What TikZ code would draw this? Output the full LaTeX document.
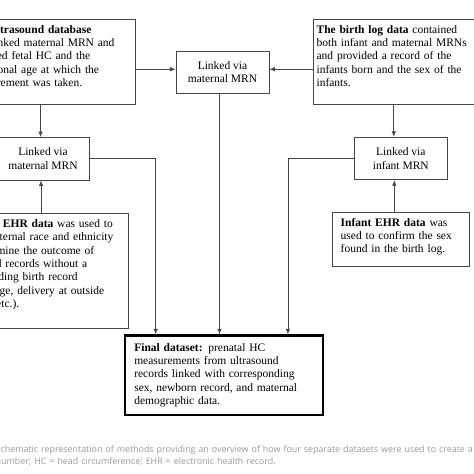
\documentclass[tikz,border=0pt]{standalone}
\usepackage{fontspec}
\setmainfont{Liberation Serif}
\newfontfamily\capfont{Open Sans}
\usetikzlibrary{positioning, arrows.meta}
\definecolor{boxgray}{RGB}{70,70,70}
\definecolor{capgray}{RGB}{155,155,155}

\begin{document}
\begin{tikzpicture}[x=1pt, y=-1pt,
        dbox/.style={draw=boxgray, line width=0.8pt, align=left, anchor=north west,
            inner xsep=7pt, inner ysep=6pt, font=\fontsize{11.5}{13.3}\selectfont},
        linkbox/.style={draw=boxgray, line width=0.8pt, align=center,
            minimum width=93pt, minimum height=42.5pt, inner sep=2pt,
            font=\fontsize{11.5}{13.3}\selectfont},
        finalbox/.style={draw=black, line width=2.2pt, align=left, anchor=north west,
            inner xsep=9.5pt, inner ysep=8pt, font=\fontsize{11.5}{13.3}\selectfont},
        arr/.style={draw=boxgray, line width=0.8pt, -{Latex[length=5.5pt, width=4.5pt]}}
    ]
    \useasboundingbox (0,0) rectangle (474,474);
    \clip (0,0) rectangle (474,474);
    \fill[white] (0,0) rectangle (474,474);

    \node[dbox, text width=160.9pt, text depth=65pt] (us) at (-39.9,19)
        {\textbf{The ultrasound database}\\
         held linked maternal MRN and\\
         recorded fetal HC and the\\
         gestational age at which the\\
         measurement was taken.};
    \node[dbox, text width=154pt, text depth=65pt, inner xsep=3.5pt] (birth) at (312.7,19)
        {\textbf{The birth log data} contained\\
         both infant and maternal MRNs\\
         and provided a record of the\\
         infants born and the sex of the\\
         infants.};
    \node[linkbox] (lmat) at (222.5,72.2) {Linked via\\maternal MRN};
    \node[linkbox] (lmat2) at (43,158.7) {Linked via\\maternal MRN};
    \node[linkbox] (linf) at (400.8,158.5) {Linked via\\infant MRN};
    \node[dbox, text width=168.6pt, text depth=95pt] (mehr) at (-54.3,213.3)
        {\textbf{Maternal EHR data} was used to\\
         obtain maternal race and ethnicity\\
         and determine the outcome of\\
         ultrasound records without a\\
         corresponding birth record\\
         (miscarriage, delivery at outside\\
         hospital, etc.).};
    \node[dbox, text width=120.4pt, text depth=34pt, inner xsep=8pt] (iehr) at (332.3,211.7)
        {\textbf{Infant EHR data} was\\
         used to confirm the sex\\
         found in the birth log.};
    \node[finalbox, text width=179pt] (final) at (123.7,334.3)
        {\textbf{Final dataset:} prenatal HC\\
         measurements from ultrasound\\
         records linked with corresponding\\
         sex, newborn record, and maternal\\
         demographic data.};

    \draw[arr] ([yshift=3pt]lmat.west -| us.east) -- ([yshift=3pt]lmat.west);
    \draw[arr] ([yshift=3pt]lmat.east -| birth.west) -- ([yshift=3pt]lmat.east);
    \draw[arr] ([xshift=-2.5pt]lmat2.north |- us.south) -- ([xshift=-2.5pt]lmat2.north);
    \draw[arr] ([xshift=-2pt]lmat2.south |- mehr.north) -- ([xshift=-2pt]lmat2.south);
    \draw[arr] ([xshift=-7pt]linf.north |- birth.south) -- ([xshift=-7pt]linf.north);
    \draw[arr] ([xshift=-6.5pt]linf.south |- iehr.north) -- ([xshift=-6.5pt]linf.south);
    \draw[arr] ([xshift=-3pt]lmat.south) -- ([xshift=-3pt]lmat.south |- final.north);
    \draw[arr] (lmat2.east) -| ([xshift=32pt]final.north west);
    \draw[arr] (linf.west) -| ([xshift=-36pt]final.north east);

    \node[font=\capfont\fontsize{8.9}{11.7}\selectfont, text=capgray, align=left,
        text width=700pt, anchor=base west, inner sep=0pt] (cap) at (-4.5,452.5)
        {Schematic representation of methods providing an overview of how four separate datasets were used to create a final dataset.\\
         number; HC = head circumference; EHR = electronic health record.};
\end{tikzpicture}
\end{document}
